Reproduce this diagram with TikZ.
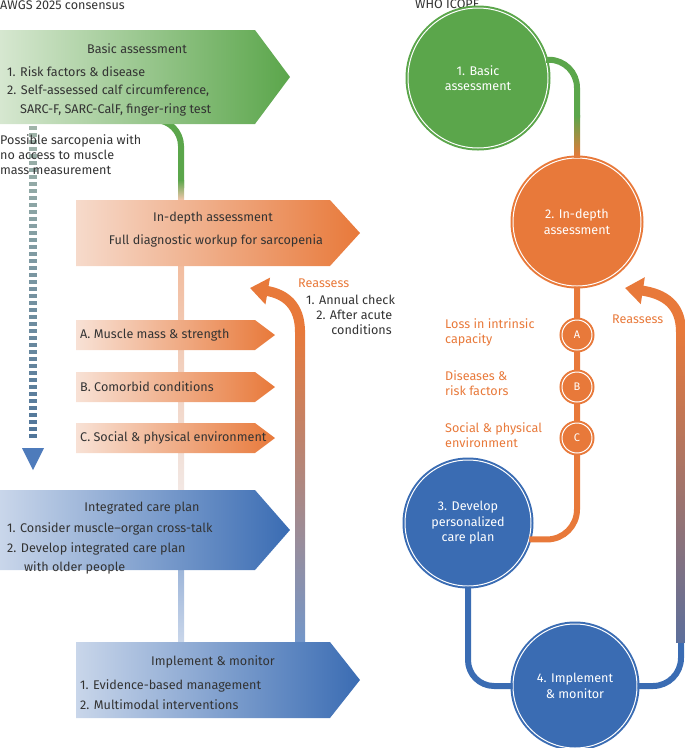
\documentclass[tikz,border=0pt]{standalone}
\usepackage{fontspec}
\setmainfont{Fira Sans}
\usetikzlibrary{arrows.meta,calc}
\definecolor{dgreen}{HTML}{5BA64B}
\definecolor{lgreen}{HTML}{D6E7D0}
\definecolor{dorange}{HTML}{E8793A}
\definecolor{lorange}{HTML}{F6DACB}
\definecolor{dblue}{HTML}{3A6CB3}
\definecolor{lblue}{HTML}{C9D6EA}
\definecolor{ink}{HTML}{333333}
\tikzset{
  txt/.style={font=\fontsize{12.6}{15}\selectfont, text=ink, inner sep=0pt, anchor=west},
  ctxt/.style={txt, anchor=center},
  otxt/.style={txt, text=dorange, align=left, anchor=north west},
  wtxt/.style={font=\fontsize{12.6}{15.5}\selectfont, text=white, align=center},
  stage/.style={circle, fill=#1, draw=white, line width=1pt, preaction={draw=#1, line width=5pt}},
  small/.style={stage=dorange, minimum size=30pt, inner sep=0pt, font=\fontsize{11}{12}\selectfont, text=white},
  link/.style={line width=6pt, draw=#1},
}
\begin{document}
\begin{tikzpicture}[x=1pt, y=-1pt]
\useasboundingbox (0,0) rectangle (685,748);

% titles
\node[txt] (awgs) at (0,5) {AWGS 2025 consensus};
\node[txt] (who) at (415,4) {WHO ICOPE};

% ---- left column
% dashed path for possible sarcopenia
\foreach \i in {0,...,44} {
  \pgfmathsetmacro\p{\i*100/44}
  \fill[dblue!\p!lgreen!85!teal!60!gray] (29,{126+7*\i}) rectangle (37,{130+7*\i});
}
\fill[dblue!90!white] (22,448) -- (44,448) -- (33,470) -- cycle;
\node[txt, align=left, anchor=north west] (possible) at (0,134)
  {Possible sarcopenia with\\no access to muscle\\mass measurement};

% connectors behind boxes
\draw[link=dgreen, rounded corners=26] (150,120) -| (181,188);
\shade[top color=dgreen, bottom color=lorange!80!dorange] (178,180) rectangle (184,200);
\shade[top color=lorange!70!dorange, bottom color=lblue!60!dorange!30] (178,266) rectangle (184,490);
\shade[top color=lblue!70!dblue, bottom color=lblue] (178,570) rectangle (184,642);

% reassess band (left)
\shade[top color=dorange, bottom color=lblue!40!dblue] (295,330) rectangle (305,642);
\draw[dorange, line width=10pt, -{Triangle[width=26pt,length=18pt]}]
  (300,332) .. controls (300,305) and (285,294) .. (250,288);
\node[otxt] (reL) at (298,279) {Reassess};
\node[txt, align=left, anchor=north west] (checks) at (306,295)
  {1. Annual check\\\hspace*{0.8em}2. After acute\\\hspace*{2em}conditions};

% basic assessment
\shade[left color=lgreen, right color=dgreen] (0,30) -- (255,30) -- (290,77) -- (255,124) -- (0,124) -- cycle;
\node[ctxt] (basic) at (137,49) {Basic assessment};
\node[txt] (b1) at (7,72) {1. Risk factors \& disease};
\node[txt] (b2) at (7,91) {2. Self-assessed calf circumference,};
\node[txt] (b3) at (20,110) {SARC-F, SARC-CalF, finger-ring test};

% in-depth assessment
\shade[left color=lorange, right color=dorange] (76,200) -- (330,200) -- (360,233) -- (330,266) -- (76,266) -- cycle;
\node[ctxt] (indepth) at (213,218) {In-depth assessment};
\node[ctxt] (workup) at (216,241) {Full diagnostic workup for sarcopenia};

% domains A-C
\foreach \n/\y/\t in {mA/335/A. Muscle mass \& strength, mB/387/B. Comorbid conditions, mC/438/C. Social \& physical environment} {
  \shade[left color=lorange!80!white, right color=dorange] (76,\y-15) -- (255,\y-15) -- (275,\y) -- (255,\y+15) -- (76,\y+15) -- cycle;
  \node[txt] (\n) at (80,\y) {\t};
}

% integrated care plan
\shade[left color=lblue, right color=dblue] (0,490) -- (255,490) -- (290,530) -- (255,570) -- (0,570) -- cycle;
\node[ctxt] (plan) at (142,508) {Integrated care plan};
\node[txt] (p1) at (7,529) {1. Consider muscle–organ cross-talk};
\node[txt] (p2) at (7,549) {2. Develop integrated care plan};
\node[txt] (p3) at (24,568) {with older people};

% implement & monitor
\shade[left color=lblue, right color=dblue] (76,642) -- (330,642) -- (360,680) -- (330,718) -- (76,718) -- cycle;
\node[ctxt] (monitor) at (213,662) {Implement \& monitor};
\node[txt] (m1) at (80,686) {1. Evidence-based management};
\node[txt] (m2) at (80,705) {2. Multimodal interventions};

% ---- right column
\node[stage=dgreen, minimum size=140pt, wtxt] (c1) at (478,78) {1. Basic\\assessment};
\node[stage=dorange, minimum size=128pt, wtxt] (c2) at (577,222) {2. In-depth\\assessment};
\node[stage=dblue, minimum size=126pt, wtxt] (c3) at (468,523) {3. Develop\\personalized\\care plan};
\node[stage=dblue, minimum size=124pt, wtxt] (c4) at (575,686) {4. Implement\\\& monitor};

\draw[link=dgreen, rounded corners=28] (c1.15) -| ($(c2.north)+(0,-40)$);
\shade[top color=dgreen, bottom color=dorange] ($(c2.north)+(-3,-42)$) rectangle ($(c2.north)+(3,0)$);
\draw[link=dorange, rounded corners=30] (c2.south) |- (c3.-15);
\draw[link=dblue, rounded corners=26] (c3.south) |- (c4.west);

% reassess band (right)
\draw[link=dblue, rounded corners=28] (c4.east) -| (681,640);
\shade[top color=dorange, bottom color=dblue!80!dorange] (676,330) rectangle (686,642);
\draw[dorange, line width=10pt, -{Triangle[width=26pt,length=18pt]}]
  (681,332) .. controls (681,305) and (665,294) .. (625,288);
\node[otxt] (reR) at (612,315) {Reassess};

% A-C markers
\node[small] (sA) at (577,335) {A};
\node[small] (sB) at (577,387) {B};
\node[small] (sC) at (577,438) {C};
\node[otxt] (lA) at (445,318) {Loss in intrinsic\\capacity};
\node[otxt] (lB) at (445,370) {Diseases \&\\risk factors};
\node[otxt] (lC) at (445,422) {Social \& physical\\environment};
\end{tikzpicture}
\end{document}
